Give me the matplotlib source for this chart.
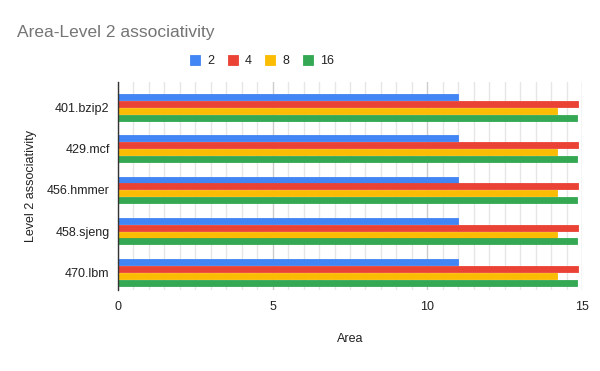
import matplotlib
matplotlib.use("Agg")
import matplotlib.pyplot as plt
import numpy as np
from matplotlib.ticker import MultipleLocator

plt.rcParams['font.family'] = ['Liberation Sans', 'DejaVu Sans']

categories = ["401.bzip2", "429.mcf", "456.hmmer", "458.sjeng", "470.lbm"]
series_names = ["2", "4", "8", "16"]
values_2 = [11.0, 11.0, 11.0, 11.0, 11.0]
values_4 = [14.88, 14.88, 14.88, 14.88, 14.88]
values_8 = [14.2, 14.2, 14.2, 14.2, 14.2]
values_16 = [14.85, 14.85, 14.85, 14.85, 14.85]
colors = ["#4285F4", "#EA4335", "#FBBC04", "#34A853"]

fig = plt.figure(figsize=(6, 3.71), dpi=100)
ax = fig.add_axes([118/600, 1-290/371, (582-118)/600, (290-82)/371])

y = np.arange(len(categories))
step = 0.168
h = 0.146
for i, (vals, name, c) in enumerate(zip([values_2, values_4, values_8, values_16], series_names, colors)):
    ax.barh(y + (i - 1.5) * step, vals, height=h, color=c, label=name, zorder=3,
            edgecolor=c, linewidth=0.6, joinstyle='round')

ax.set_xlim(0, 15)
ax.set_ylim(4.43, -0.62)
ax.set_yticks(y)
ax.set_yticklabels(categories, fontsize=9, color="#222222")
ax.xaxis.set_major_locator(MultipleLocator(5))
ax.xaxis.set_minor_locator(MultipleLocator(0.5))
ax.tick_params(axis='x', which='both', length=0, labelsize=9, colors="#222222", pad=8)
ax.tick_params(axis='y', length=0, pad=6)
ax.grid(axis='x', which='major', color="#cccccc", linewidth=1, zorder=0)
ax.grid(axis='x', which='minor', color="#e6e6e6", linewidth=1, zorder=0)
for s in ["top", "right", "bottom"]:
    ax.spines[s].set_visible(False)
ax.spines["left"].set_color("#333333")
ax.spines["left"].set_linewidth(1)
ax.spines["left"].set_zorder(4)

ax.set_xlabel("Area", fontsize=9, color="#222222", labelpad=14)
ax.set_ylabel("Level 2 associativity", fontsize=9, color="#222222", labelpad=7)

fig.text(17/600, 1-37.5/371, "Area-Level 2 associativity", fontsize=12.5, color="#757575", ha="left", va="baseline")

leg = fig.legend(loc="center", bbox_to_anchor=(262/600, 1-61/371), ncol=4, frameon=False,
                 fontsize=9, handlelength=0.8, handleheight=0.9, handletextpad=0.6, columnspacing=1.05)
for t in leg.get_texts():
    t.set_color("#222222")

fig.savefig("out.png", dpi=100)
